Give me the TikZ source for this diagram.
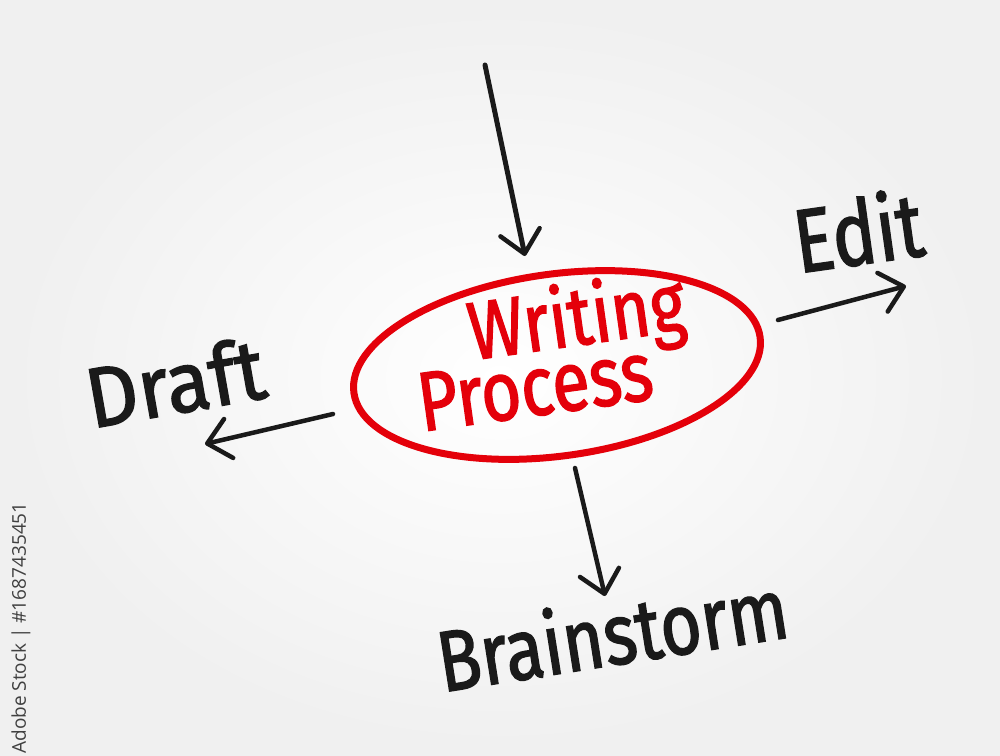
\documentclass[tikz,border=0pt]{standalone}
\usepackage{fontspec}
\usetikzlibrary{arrows.meta,shapes.geometric}
\newfontfamily\hand{Fira Sans}[FakeStretch=0.82, FakeBold=1.6]
\newfontfamily\handw{Fira Sans}[FakeStretch=0.95, FakeBold=1.6]
\newfontfamily\wmark{Open Sans}
\definecolor{inkred}{RGB}{228,0,10}
\definecolor{ink}{RGB}{26,26,26}
\tikzset{
  pen/.style={draw=ink, line width=4.5pt, line cap=round,
    -{Straight Barb[length=22pt, width=40pt, line width=4.5pt, line cap=round, line join=round]}},
  blackword/.style={text=ink, inner sep=0pt},
  redword/.style={text=inkred, inner sep=0pt},
}
\begin{document}
\begin{tikzpicture}[x=1pt,y=-1pt]
\useasboundingbox (0,0) rectangle (1000,755);
\shade[inner color=white, outer color=black!6] (0,0) rectangle (1000,755);
% centre
\node[ellipse, draw=inkred, line width=7pt, minimum width=410pt, minimum height=182pt, rotate=7.8] (wp) at (557,365) {};
\node[redword, rotate=8, font=\hand\fontsize{82}{82}\selectfont] (w1) at (577,322) {Writing};
\node[redword, rotate=8, font=\hand\fontsize{84}{84}\selectfont] (w2) at (535,387) {Process};
% labels
\node[blackword, rotate=10, font=\handw\fontsize{85}{85}\selectfont] (draft) at (175,382) {Draft};
\node[blackword, rotate=8, font=\hand\fontsize{90}{90}\selectfont] (edit) at (858,230) {Edit};
\node[blackword, rotate=9, font=\hand\fontsize{86}{86}\selectfont] (brain) at (612,632) {Brainstorm};
% arrow ends
\coordinate (topS) at (485,65);
\coordinate (topE) at (525,256);
\coordinate (rS) at (778,320);
\coordinate (rE) at (906,286);
\coordinate (lS) at (333,414);
\coordinate (lE) at (205,444);
\coordinate (dS) at (575,468);
\coordinate (dE) at (605,596);
\draw[pen, line width=5pt] (topS) -- (topE);
\draw[pen] (rS) -- (rE);
\draw[pen] (lS) -- (lE);
\draw[pen] (dS) -- (dE);
% stock id
\node[rotate=90, text=black!75, inner sep=0pt, font=\wmark\fontsize{19}{19}\selectfont] (id) at (21,628) {Adobe Stock | \#1687435451};
\end{tikzpicture}
\end{document}
